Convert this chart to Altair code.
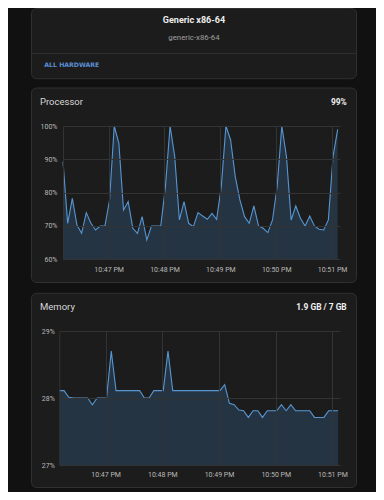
import altair as alt
import pandas as pd

# ---------------- data ----------------
times = [
    "22:46:11", "22:46:16", "22:46:21", "22:46:26", "22:46:31", "22:46:36",
    "22:46:41", "22:46:46", "22:46:51", "22:46:56",
    "22:47:01", "22:47:06", "22:47:11", "22:47:16", "22:47:21", "22:47:26",
    "22:47:31", "22:47:36", "22:47:41", "22:47:46", "22:47:51", "22:47:56",
    "22:48:01", "22:48:06", "22:48:11", "22:48:16", "22:48:21", "22:48:26",
    "22:48:31", "22:48:36", "22:48:41", "22:48:46", "22:48:51", "22:48:56",
    "22:49:01", "22:49:06", "22:49:11", "22:49:16", "22:49:21", "22:49:26",
    "22:49:31", "22:49:36", "22:49:41", "22:49:46", "22:49:51", "22:49:56",
    "22:50:01", "22:50:06", "22:50:11", "22:50:16", "22:50:21", "22:50:26",
    "22:50:31", "22:50:36", "22:50:41", "22:50:46", "22:50:51", "22:50:56",
    "22:51:01", "22:51:06",
]

cpu_pct = [
    89.3, 70.8, 78.3, 70.3, 67.8, 74.0, 70.8, 68.8, 70.0, 70.0,
    77.8, 100.0, 94.8, 74.8, 77.3, 69.3, 67.8, 72.8, 65.8, 70.0,
    70.0, 70.0, 81.8, 100.0, 90.8, 71.8, 77.3, 70.8, 69.8, 74.0,
    73.0, 72.0, 73.8, 72.0, 81.8, 100.0, 95.8, 84.8, 77.8, 72.8,
    70.8, 76.0, 70.0, 69.3, 68.0, 71.8, 81.8, 100.0, 90.8, 71.8,
    76.0, 72.3, 70.0, 73.0, 70.0, 69.0, 68.8, 71.8, 90.8, 99.0,
]

mem_pct = [
    28.11, 28.11, 28.01, 28.0, 28.0, 28.0, 28.0, 27.9, 28.0, 28.0,
    28.0, 28.7, 28.11, 28.11, 28.11, 28.11, 28.11, 28.11, 28.0, 28.0,
    28.11, 28.11, 28.11, 28.7, 28.11, 28.11, 28.11, 28.11, 28.11, 28.11,
    28.11, 28.11, 28.11, 28.11, 28.11, 28.2, 27.92, 27.9, 27.82, 27.81,
    27.71, 27.81, 27.81, 27.71, 27.81, 27.81, 27.81, 27.9, 27.81, 27.9,
    27.81, 27.81, 27.81, 27.81, 27.71, 27.71, 27.71, 27.81, 27.81, 27.81,
]

cpu_ticks = [60, 70, 80, 90, 100]
mem_ticks = [27, 28, 29]
tick_minutes = [47, 48, 49, 50, 51]

board_name = "Generic x86-64"
board_id = "generic-x86-64"
link_label = "ALL HARDWARE"
cpu_title, cpu_now = "Processor", "99%"
mem_title, mem_now = "Memory", "1.9 GB / 7 GB"

# ---------------- build ----------------
W, H = 368, 484
DAY = "2024-01-01T"
cpu_df = pd.DataFrame({"t": [DAY + s for s in times], "v": cpu_pct})
mem_df = pd.DataFrame({"t": [DAY + s for s in times], "v": mem_pct})


def dt(h, m, s=0, ms=0):
    return alt.DateTime(year=2024, month=1, date=1, hours=h, minutes=m,
                        seconds=s, milliseconds=ms)


tick_dates = [dt(22, m) for m in tick_minutes]
one = alt.Data(values=[{"k": 0}])

GRID = "#333333"
LBL = "#b9b9b9"
FONT = "Roboto"


def card(y0, y1):
    return alt.Chart(one).mark_rect(
        fill="#1c1c1c", stroke="#303030", strokeWidth=1, cornerRadius=5
    ).encode(x=alt.value(23.5), x2=alt.value(348.5), y=alt.value(y0), y2=alt.value(y1))


def text(s, x, y, size, color, weight="normal", align="left", font=FONT):
    return alt.Chart(one).mark_text(
        text=s, align=align, baseline="middle", fontSize=size, color=color,
        fontWeight=weight, font=font
    ).encode(x=alt.value(x), y=alt.value(y))


def panel(df, x0, x1, t_end, y_dom, y_rng, y_ticks, ypad, xpad):
    xs = alt.Scale(domain=[dt(22, 46, 11), t_end], range=[x0, x1], nice=False)
    ys = alt.Scale(domain=y_dom, range=y_rng, nice=False, zero=False)
    y_enc = alt.Y(
        "v:Q", scale=ys, title=None,
        axis=alt.Axis(orient="left", offset=-x0, values=y_ticks,
                      labelExpr="datum.value + '%'", grid=True, gridColor=GRID,
                      domain=True, domainColor=GRID, ticks=False,
                      labelPadding=ypad, labelFont=FONT, labelFontSize=7,
                      labelColor=LBL, zindex=1))
    x_grid = alt.X(
        "t:T", scale=xs, title=None,
        axis=alt.Axis(orient="top", offset=-y_rng[1], values=tick_dates,
                      grid=True, gridColor=GRID, labels=False, ticks=False,
                      domain=False, zindex=1))
    x_lab = alt.X(
        "t:T", scale=xs, title=None,
        axis=alt.Axis(orient="bottom", offset=y_rng[0] - H, values=tick_dates,
                      format="%-I:%M %p", grid=False, ticks=False, domain=False,
                      labelPadding=xpad, labelFont=FONT, labelFontSize=7,
                      labelColor=LBL, labelFlush=False, labelOverlap=False,
                      zindex=1))
    area = alt.Chart(df).mark_area(fill="#4a8cd0", fillOpacity=0.22).encode(
        x=x_grid, y=y_enc, y2=alt.datum(y_dom[0]))
    line = alt.Chart(df).mark_line(color="#5796d2", strokeWidth=1.1).encode(
        x=x_lab, y=y_enc)
    return alt.layer(area, line).resolve_axis(x="independent")


cpu_panel = panel(cpu_df, 55, 332, dt(22, 51, 8, 500), [60, 100], [251.3, 118],
                  cpu_ticks, 6, 6)
mem_panel = panel(mem_df, 51.3, 332, dt(22, 51, 8), [27, 29], [457, 323],
                  mem_ticks, 5, 5)

divider = alt.Chart(one).mark_rule(color="#2e2e2e", strokeWidth=1).encode(
    x=alt.value(23.5), x2=alt.value(348.5), y=alt.value(45.5))

chart = alt.layer(
    card(0.5, 70.7),
    divider,
    text(board_name, 186, 12, 9, "#ececec", weight="bold", align="center"),
    text(board_id, 186, 30.3, 7.8, "#a0a0a0", align="center"),
    text(link_label, 36.3, 56.7, 6.2, "#5b8fd6", weight="bold", font="DejaVu Sans"),
    card(80, 274.5),
    text(cpu_title, 32, 94.3, 9.5, "#d6d6d6"),
    text(cpu_now, 338.7, 94.3, 8.4, "#f2f2f2", weight="bold", align="right"),
    cpu_panel,
    card(285.3, 479.5),
    text(mem_title, 32, 298.7, 9.5, "#d6d6d6"),
    text(mem_now, 338.7, 298.7, 8.4, "#f2f2f2", weight="bold", align="right"),
    mem_panel,
).resolve_scale(x="independent", y="independent").properties(
    width=W, height=H, padding=0,
    autosize=alt.AutoSizeParams(type="none"),
    background="#111111",
).configure_view(stroke=None)

chart.save("out.html", embed_options={"renderer": "svg", "actions": False})
